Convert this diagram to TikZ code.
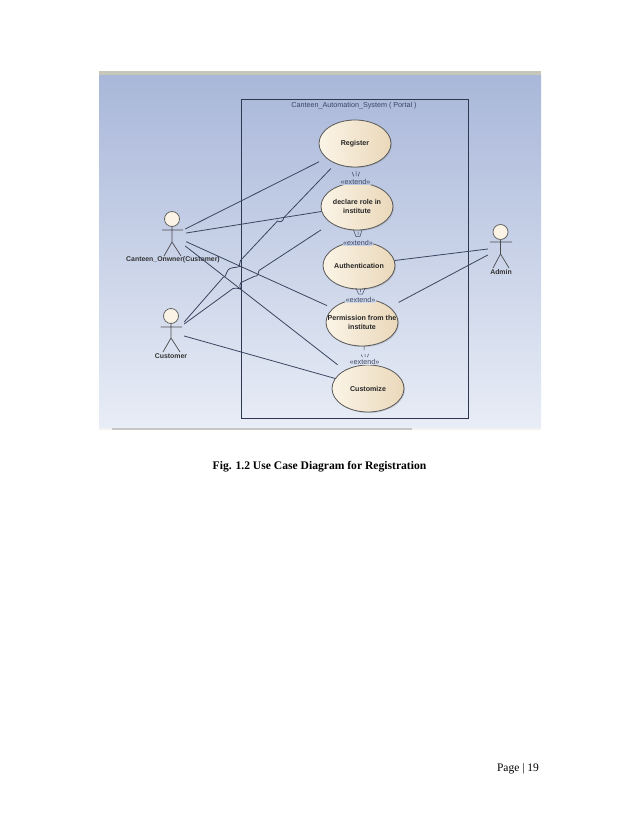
\documentclass[tikz,border=0pt]{standalone}
\usepackage{fontspec}
\setmainfont{Liberation Sans}
\newfontfamily\capfont{Liberation Serif}
\usetikzlibrary{shadows,shapes.geometric}
\definecolor{bgT}{HTML}{A9B7D9}
\definecolor{bgB}{HTML}{E8EDF6}
\definecolor{ink}{HTML}{3A4560}
\definecolor{frameink}{HTML}{2E3850}
\definecolor{creamL}{HTML}{FBF4E6}
\definecolor{creamR}{HTML}{EAD8BA}
\definecolor{stripgrey}{HTML}{C6C7B8}
\tikzset{
  usecase/.style={ellipse,draw=black!65,line width=.8pt,minimum width=72pt,minimum height=47pt,inner sep=0pt,
    left color=creamL,right color=creamR,
    drop shadow={opacity=.3,shadow xshift=1pt,shadow yshift=-1pt},
    align=center,font=\fontsize{7.1}{9.5}\selectfont\bfseries,text=black!85},
  actorbox/.style={rectangle,inner sep=0pt,minimum width=22pt,minimum height=46pt},
  actorlabel/.style={inner sep=0pt,font=\fontsize{6.9}{8}\selectfont\bfseries,text=black!80},
  extlabel/.style={inner sep=.4pt,font=\fontsize{7.2}{8}\selectfont,text=ink},
  assoc/.style={draw=ink,line width=.8pt},
  stub/.style={draw=ink,line width=.5pt},
  limb/.style={draw=black!70,line width=.7pt},
  head/.style={draw=black!60,line width=.8pt,fill=creamL}
}
\begin{document}
\begin{tikzpicture}[x=1pt,y=-1pt]
\useasboundingbox (0,0) rectangle (638,826);
% window background
\shade[top color=bgT,bottom color=bgB] (99,75) rectangle (541,428);
\fill[black!5] (99,428) rectangle (541,430);
\fill[black!22] (112,427.5) rectangle (412,429.5);
\fill[stripgrey] (99,71) rectangle (541,75);
% system boundary
\node[draw=frameink,line width=.9pt,minimum width=227pt,minimum height=319pt,inner sep=0pt] (system) at (354.5,258.5) {};
\node[inner sep=0pt,font=\fontsize{7.2}{8}\selectfont,text=ink] (systemlabel) at (354,106) {Canteen\_Automation\_System ( Portal )};
% use cases
\node[usecase] (register) at (355,143.5) {Register};
\node[usecase] (declare) at (357,206.5) {declare role in\\institute};
\node[usecase] (auth) at (359,265.5) {Authentication};
\node[usecase] (perm) at (362,322.5) {\hbox to 40pt{\hss Permission from the\hss}\\institute};
\node[usecase] (custom) at (368,388.5) {Customize};
% extend labels
\node[extlabel,fill=bgB!30!bgT] (e1) at (355.5,182) {«extend»};
\node[extlabel,fill=bgB!47!bgT] (e2) at (358,242.5) {«extend»};
\node[extlabel,fill=bgB!63!bgT] (e3) at (360.5,300) {«extend»};
\node[extlabel,fill=bgB!81!bgT] (e4) at (364.5,362) {«extend»};
% extend stubs
\draw[stub] (352,172)--(354,176.5) (356,171)--(356,176) (359.5,172)--(358,176.5);
\draw[stub] (353.5,230)--(356,236.5)--(360,236.5)--(362,230) (358,231.5)--(358,235);
\draw[stub] (356,288)--(358.5,294)--(362.5,294)--(365,288) (360.5,289)--(360.5,292);
\draw[stub] (364,346)--(364,350) (361,354.5)--(362.5,357) (365,354)--(365,357) (368.5,354)--(367.5,357);
% actors
\node[actorbox] (owner) at (172.5,233.5) {};
\draw[limb] (172,226.5)--(172,242) (162,230)--(183,230) (164,256)--(172,242)--(181,256);
\draw[head] (172,219) circle (7.5);
\node[actorlabel] (ownerlabel) at (173,260) {Canteen\_Onwner(Customer)};
\node[actorbox] (customer) at (171,330) {};
\draw[limb] (171,323.5)--(171,338) (160.5,327)--(182,327) (163,352)--(171,338)--(180,352);
\draw[head] (171,316) circle (7.5);
\node[actorlabel] (customerlabel) at (171,356) {Customer};
\node[actorbox] (admin) at (501,246) {};
\draw[limb] (500.5,239.5)--(500.5,254) (490,242)--(512,242) (493,268)--(500.5,254)--(509,268);
\draw[head] (500.5,232) circle (7.5);
\node[actorlabel] (adminlabel) at (501,272) {Admin};
% associations
\draw[assoc,shorten >=8pt] ([xshift=1.5pt,yshift=4.5pt]owner.east) -- (register.207.9);
\draw[assoc] ([xshift=2.5pt,yshift=.5pt]owner.east) -- (declare.188.7);
\draw[assoc,shorten >=6.4pt] ([xshift=2.5pt,yshift=-8.2pt]owner.east) -- (perm.154.8);
\draw[assoc,shorten >=8.8pt] ([xshift=1.5pt,yshift=-12.5pt]owner.east) -- (custom.142);
\draw[assoc,shorten >=6.7pt] ([xshift=2pt,yshift=8pt]customer.east) -- (223,277.5)
  .. controls (226,277) and (226,273) .. (228,270)
  .. controls (230,267) and (236,268) .. (239.5,266.5)
  .. controls (241,265) and (238,263) .. (240.5,260.5)
  -- (277.5,221)
  .. controls (280,222.5) and (283,222) .. (284,217.5)
  -- (register.226.2);
\draw[assoc,shorten >=12pt] ([xshift=2pt,yshift=6pt]customer.east) -- (233,288.5)
  .. controls (235,287) and (238,289) .. (240.5,289)
  .. controls (240,286) and (239,284) .. (241,282.5)
  -- (254,276.5)
  .. controls (256,277) and (258,276) .. (259,270.5)
  -- (declare.213.4);
\draw[assoc] ([xshift=2pt,yshift=-6pt]customer.east) -- (custom.163.3);
\draw[assoc] (auth.8.7) -- ([xshift=-2pt,yshift=-3pt]admin.west);
\draw[assoc,shorten <=10pt] (perm.29.7) -- ([xshift=-2pt,yshift=-9pt]admin.west);
% caption and page number
\node[inner sep=0pt,font=\capfont\fontsize{11.6}{13}\selectfont\bfseries] (caption) at (319.5,467) {Fig. 1.2 Use Case Diagram for Registration};
\node[inner sep=0pt,font=\capfont\fontsize{11.5}{13}\selectfont] (page) at (518,769) {Page | 19};
\end{tikzpicture}
\end{document}
